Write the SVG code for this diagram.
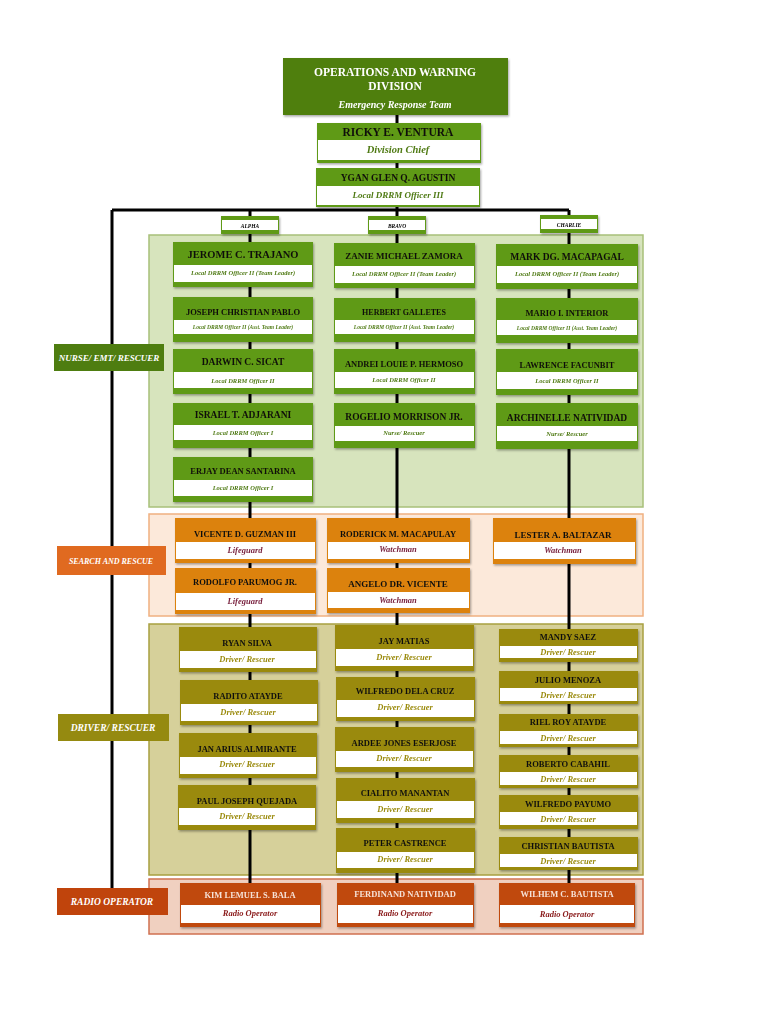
<svg xmlns="http://www.w3.org/2000/svg" width="768" height="1024" viewBox="0 0 768 1024">
<defs>
<filter id="sh" x="-5%" y="-10%" width="112%" height="130%"><feDropShadow dx="1" dy="1.5" stdDeviation="1.2" flood-color="#000" flood-opacity="0.35"/></filter>
</defs>
<style>
text{font-family:"Liberation Serif","Times New Roman",serif;text-anchor:middle;font-weight:bold}
.nm{font-size:9.5px;fill:#111}
.t{font-style:italic;font-size:8.5px}
.ts{font-style:italic;font-size:6.5px}
.tx{font-style:italic;font-size:5.5px}
.g{fill:#5f9a12}
.o{fill:#dc8208}
.d{fill:#9a8a0c}
.r{fill:#c0480e}
.w{fill:#fff}
.n{filter:url(#sh)}
.tg{fill:#4f7a14}
.to{fill:#7a2440}
.td{fill:#9a8a0c}
.tr{fill:#8a1a1a}
.lab{font-style:italic;font-size:9px;fill:#fff}
.ln{stroke:#000;stroke-width:3;fill:none}
</style>
<rect width="768" height="1024" fill="#fff"/>
<rect x="149" y="235" width="494" height="272" fill="#d7e4bd" stroke="#a8c07a" stroke-width="1.5"/>
<rect x="149" y="514" width="494" height="102" fill="#fce9da" stroke="#f0b080" stroke-width="1.5"/>
<rect x="149" y="624" width="494" height="251" fill="#d6d09a" stroke="#a8a040" stroke-width="1.5"/>
<rect x="149" y="879" width="494" height="55" fill="#f0d0c0" stroke="#d07050" stroke-width="1.5"/>
<g id="connectors">
<path class="ln" d="M397 115V123M397 163V168M397 207V210M112 210H569M112 210V888M250 210V883M397 210V883M569 210V883"/>
</g>
<g id="header" class="n"><rect x="283" y="58" width="225" height="57" fill="#507f10"/>
<text x="395" y="76" style="font-size:11.5px;fill:#fff">OPERATIONS AND WARNING</text><text x="395" y="90" style="font-size:11.5px;fill:#fff">DIVISION</text>
<text x="395" y="108" style="font-size:10px;font-style:italic;fill:#fff">Emergency Response Team</text></g>
<g id="ricky" class="n"><rect class="g" x="317" y="123" width="164" height="40"/><rect class="w" x="318" y="140" width="162" height="20"/>
<text class="nm" x="398" y="136" style="font-size:11.5px">RICKY E. VENTURA</text><text class="t tg" x="398" y="153" style="font-size:10.5px">Division Chief</text></g>
<g id="ygan" class="n"><rect class="g" x="316" y="168" width="164" height="39"/><rect class="w" x="317" y="186" width="162" height="19"/>
<text class="nm" x="398" y="181">YGAN GLEN Q. AGUSTIN</text><text class="t tg" x="398" y="198" style="font-size:9px">Local DRRM Officer III</text></g>
<g id="alpha" class="n"><rect class="g" x="221" y="216" width="58" height="18"/><rect class="w" x="222" y="220" width="56" height="10"/><text x="250" y="228" style="font-size:5.5px;font-style:italic">ALPHA</text></g>
<g id="bravo" class="n"><rect class="g" x="368" y="216" width="58" height="18"/><rect class="w" x="369" y="220" width="56" height="10"/><text x="397" y="228" style="font-size:5.5px;font-style:italic">BRAVO</text></g>
<g id="charlie" class="n"><rect class="g" x="540" y="215" width="58" height="18"/><rect class="w" x="541" y="219" width="56" height="10"/><text x="569" y="227" style="font-size:5.5px;font-style:italic">CHARLIE</text></g>
<g id="l-nurse"><rect x="54" y="344" width="110" height="27" fill="#4e7d10"/><text class="lab" x="109" y="361">NURSE/ EMT/ RESCUER</text></g>
<g id="l-search"><rect x="57" y="546" width="109" height="29" fill="#e06a20"/><text class="lab" x="111" y="564" style="font-size:8px">SEARCH AND RESCUE</text></g>
<g id="l-driver"><rect x="58" y="714" width="111" height="27" fill="#958a10"/><text class="lab" x="113" y="731" style="font-size:9.5px">DRIVER/ RESCUER</text></g>
<g id="l-radio"><rect x="57" y="888" width="111" height="27" fill="#c0440c"/><text class="lab" x="112" y="905" style="font-size:9.5px">RADIO OPERATOR</text></g>

<g id="jerome" class="n"><rect class="g" x="173" y="242" width="140" height="45"/><rect class="w" x="174" y="265" width="138" height="17"/><text class="nm" x="243" y="258" style="font-size:10.5px">JEROME C. TRAJANO</text><text class="ts tg" x="243" y="275">Local DRRM Officer II (Team Leader)</text></g>
<g id="joseph" class="n"><rect class="g" x="173" y="297" width="140" height="45"/><rect class="w" x="174" y="320" width="138" height="14"/><text class="nm" x="243" y="315" style="font-size:8.5px">JOSEPH CHRISTIAN PABLO</text><text class="tx tg" x="243" y="329">Local DRRM Officer II (Asst. Team Leader)</text></g>
<g id="darwin" class="n"><rect class="g" x="173" y="349" width="140" height="45"/><rect class="w" x="174" y="372" width="138" height="16"/><text class="nm" x="243" y="365">DARWIN C. SICAT</text><text class="ts tg" x="243" y="383">Local DRRM Officer II</text></g>
<g id="israel" class="n"><rect class="g" x="173" y="403" width="140" height="45"/><rect class="w" x="174" y="425" width="138" height="15"/><text class="nm" x="243" y="418">ISRAEL T. ADJARANI</text><text class="ts tg" x="243" y="435">Local DRRM Officer I</text></g>
<g id="erjay" class="n"><rect class="g" x="173" y="457" width="140" height="45"/><rect class="w" x="174" y="480" width="138" height="16"/><text class="nm" x="243" y="474" style="font-size:8.5px">ERJAY DEAN SANTARINA</text><text class="ts tg" x="243" y="490">Local DRRM Officer I</text></g>

<g id="zanie" class="n"><rect class="g" x="334" y="243" width="141" height="45"/><rect class="w" x="335" y="266" width="139" height="17"/><text class="nm" x="404" y="259" style="font-size:9px">ZANIE MICHAEL ZAMORA</text><text class="ts tg" x="404" y="276">Local DRRM Officer II (Team Leader)</text></g>
<g id="herbert" class="n"><rect class="g" x="334" y="298" width="141" height="44"/><rect class="w" x="335" y="320" width="139" height="14"/><text class="nm" x="404" y="315" style="font-size:8px">HERBERT GALLETES</text><text class="tx tg" x="404" y="329">Local DRRM Officer II (Asst. Team Leader)</text></g>
<g id="andrei" class="n"><rect class="g" x="334" y="349" width="141" height="45"/><rect class="w" x="335" y="372" width="139" height="16"/><text class="nm" x="404" y="367" style="font-size:8.5px">ANDREI LOUIE P. HERMOSO</text><text class="ts tg" x="404" y="382">Local DRRM Officer II</text></g>
<g id="rogelio" class="n"><rect class="g" x="334" y="403" width="141" height="45"/><rect class="w" x="335" y="426" width="139" height="15"/><text class="nm" x="404" y="420">ROGELIO MORRISON JR.</text><text class="ts tg" x="404" y="435">Nurse/ Rescuer</text></g>

<g id="mark" class="n"><rect class="g" x="496" y="244" width="142" height="45"/><rect class="w" x="497" y="266" width="140" height="17"/><text class="nm" x="567" y="260">MARK DG. MACAPAGAL</text><text class="ts tg" x="567" y="276">Local DRRM Officer II (Team Leader)</text></g>
<g id="mario" class="n"><rect class="g" x="496" y="298" width="142" height="45"/><rect class="w" x="497" y="320" width="140" height="15"/><text class="nm" x="567" y="316" style="font-size:8.5px">MARIO I. INTERIOR</text><text class="tx tg" x="567" y="330">Local DRRM Officer II (Asst. Team Leader)</text></g>
<g id="lawrence" class="n"><rect class="g" x="496" y="349" width="142" height="46"/><rect class="w" x="497" y="372" width="140" height="17"/><text class="nm" x="567" y="368" style="font-size:8.5px">LAWRENCE FACUNBIT</text><text class="ts tg" x="567" y="383">Local DRRM Officer II</text></g>
<g id="archinelle" class="n"><rect class="g" x="496" y="403" width="142" height="46"/><rect class="w" x="497" y="426" width="140" height="15"/><text class="nm" x="567" y="421">ARCHINELLE NATIVIDAD</text><text class="ts tg" x="567" y="436">Nurse/ Rescuer</text></g>

<g id="vicente" class="n"><rect class="o" x="175" y="518" width="141" height="45"/><rect class="w" x="176" y="542" width="139" height="17"/><text class="nm" x="245" y="537" style="font-size:8.5px">VICENTE D. GUZMAN III</text><text class="t to" x="245" y="553">Lifeguard</text></g>
<g id="roderick" class="n"><rect class="o" x="327" y="518" width="143" height="45"/><rect class="w" x="328" y="542" width="141" height="17"/><text class="nm" x="398" y="537" style="font-size:8.5px">RODERICK M. MACAPULAY</text><text class="t to" x="398" y="552">Watchman</text></g>
<g id="lester" class="n"><rect class="o" x="493" y="518" width="143" height="46"/><rect class="w" x="494" y="542" width="141" height="17"/><text class="nm" x="563" y="538" style="font-size:9px">LESTER A. BALTAZAR</text><text class="t to" x="563" y="553">Watchman</text></g>
<g id="rodolfo" class="n"><rect class="o" x="175" y="568" width="141" height="46"/><rect class="w" x="176" y="593" width="139" height="17"/><text class="nm" x="245" y="585" style="font-size:8.5px">RODOLFO PARUMOG JR.</text><text class="t to" x="245" y="604">Lifeguard</text></g>
<g id="angelo" class="n"><rect class="o" x="327" y="568" width="143" height="45"/><rect class="w" x="328" y="592" width="141" height="16"/><text class="nm" x="398" y="587" style="font-size:9px">ANGELO DR. VICENTE</text><text class="t to" x="398" y="603">Watchman</text></g>

<g id="ryan" class="n"><rect class="d" x="179" y="627" width="138" height="45"/><rect class="w" x="180" y="651" width="136" height="17"/><text class="nm" x="247" y="646" style="font-size:8.5px">RYAN SILVA</text><text class="t td" x="247" y="662">Driver/ Rescuer</text></g>
<g id="radito" class="n"><rect class="d" x="180" y="680" width="138" height="45"/><rect class="w" x="181" y="704" width="136" height="17"/><text class="nm" x="248" y="699" style="font-size:8.5px">RADITO ATAYDE</text><text class="t td" x="248" y="715">Driver/ Rescuer</text></g>
<g id="jan" class="n"><rect class="d" x="179" y="733" width="138" height="45"/><rect class="w" x="180" y="757" width="136" height="17"/><text class="nm" x="247" y="752" style="font-size:8.5px">JAN ARIUS ALMIRANTE</text><text class="t td" x="247" y="767">Driver/ Rescuer</text></g>
<g id="paul" class="n"><rect class="d" x="178" y="785" width="138" height="45"/><rect class="w" x="179" y="808" width="136" height="17"/><text class="nm" x="247" y="804" style="font-size:8.5px">PAUL JOSEPH QUEJADA</text><text class="t td" x="247" y="819">Driver/ Rescuer</text></g>

<g id="jay" class="n"><rect class="d" x="335" y="625" width="139" height="46"/><rect class="w" x="336" y="649" width="137" height="17"/><text class="nm" x="404" y="644" style="font-size:8.5px">JAY MATIAS</text><text class="t td" x="404" y="660">Driver/ Rescuer</text></g>
<g id="wilfredo" class="n"><rect class="d" x="336" y="677" width="139" height="44"/><rect class="w" x="337" y="700" width="137" height="17"/><text class="nm" x="405" y="694" style="font-size:8.5px">WILFREDO DELA CRUZ</text><text class="t td" x="405" y="710">Driver/ Rescuer</text></g>
<g id="ardee" class="n"><rect class="d" x="335" y="727" width="139" height="45"/><rect class="w" x="336" y="751" width="137" height="16"/><text class="nm" x="404" y="746" style="font-size:8.5px">ARDEE JONES ESERJOSE</text><text class="t td" x="404" y="761">Driver/ Rescuer</text></g>
<g id="cialito" class="n"><rect class="d" x="336" y="778" width="139" height="45"/><rect class="w" x="337" y="801" width="137" height="17"/><text class="nm" x="405" y="796" style="font-size:8.5px">CIALITO MANANTAN</text><text class="t td" x="405" y="812">Driver/ Rescuer</text></g>
<g id="peter" class="n"><rect class="d" x="336" y="828" width="139" height="45"/><rect class="w" x="337" y="852" width="137" height="16"/><text class="nm" x="405" y="846" style="font-size:8.5px">PETER CASTRENCE</text><text class="t td" x="405" y="862">Driver/ Rescuer</text></g>

<g id="mandy" class="n"><rect class="d" x="499" y="629" width="139" height="33"/><rect class="w" x="500" y="646" width="137" height="12"/><text class="nm" x="568" y="640" style="font-size:8.5px">MANDY SAEZ</text><text class="t td" x="568" y="655">Driver/ Rescuer</text></g>
<g id="julio" class="n"><rect class="d" x="499" y="671" width="139" height="33"/><rect class="w" x="500" y="688" width="137" height="13"/><text class="nm" x="568" y="683" style="font-size:8.5px">JULIO MENOZA</text><text class="t td" x="568" y="698">Driver/ Rescuer</text></g>
<g id="riel" class="n"><rect class="d" x="499" y="714" width="139" height="33"/><rect class="w" x="500" y="731" width="137" height="13"/><text class="nm" x="568" y="725" style="font-size:8.5px">RIEL ROY ATAYDE</text><text class="t td" x="568" y="741">Driver/ Rescuer</text></g>
<g id="roberto" class="n"><rect class="d" x="499" y="755" width="139" height="33"/><rect class="w" x="500" y="772" width="137" height="13"/><text class="nm" x="568" y="767" style="font-size:8.5px">ROBERTO CABAHIL</text><text class="t td" x="568" y="782">Driver/ Rescuer</text></g>
<g id="wilfredop" class="n"><rect class="d" x="499" y="795" width="139" height="34"/><rect class="w" x="500" y="812" width="137" height="13"/><text class="nm" x="568" y="807" style="font-size:8.5px">WILFREDO PAYUMO</text><text class="t td" x="568" y="822">Driver/ Rescuer</text></g>
<g id="christian" class="n"><rect class="d" x="499" y="837" width="139" height="33"/><rect class="w" x="500" y="854" width="137" height="13"/><text class="nm" x="568" y="849" style="font-size:8.5px">CHRISTIAN BAUTISTA</text><text class="t td" x="568" y="864">Driver/ Rescuer</text></g>

<g id="kim" class="n"><rect class="r" x="180" y="883" width="141" height="44"/><rect class="w" x="181" y="905" width="139" height="18"/><text class="nm" x="250" y="898" style="font-size:8.5px;fill:#f6e2d6">KIM LEMUEL S. BALA</text><text class="t tr" x="250" y="916">Radio Operator</text></g>
<g id="ferdinand" class="n"><rect class="r" x="337" y="883" width="137" height="44"/><rect class="w" x="338" y="905" width="135" height="18"/><text class="nm" x="405" y="897" style="font-size:8.5px;fill:#f6e2d6">FERDINAND NATIVIDAD</text><text class="t tr" x="405" y="916">Radio Operator</text></g>
<g id="wilhem" class="n"><rect class="r" x="499" y="883" width="136" height="44"/><rect class="w" x="500" y="905" width="134" height="18"/><text class="nm" x="567" y="897" style="font-size:8.5px;fill:#f6e2d6">WILHEM C. BAUTISTA</text><text class="t tr" x="567" y="917">Radio Operator</text></g>
</svg>
